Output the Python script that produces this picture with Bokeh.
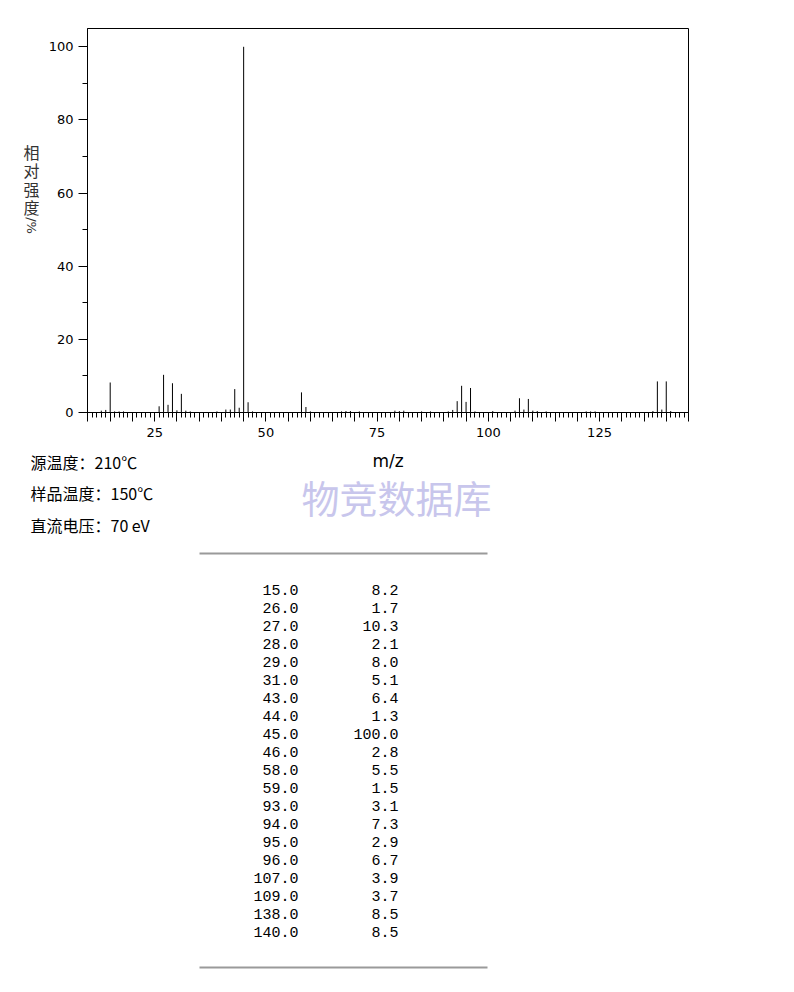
import math
from bokeh.plotting import figure
from bokeh.layouts import column, row
from bokeh.models import FixedTicker, Range1d, ColumnDataSource
from bokeh.core.properties import value
from bokeh.embed import file_html
from bokeh.resources import INLINE

# ---- data ----
mz = [15, 26, 27, 28, 29, 31, 43, 44, 45, 46, 58, 59, 93, 94, 95, 96, 107, 109, 138, 140]
intensity = [8.2, 1.7, 10.3, 2.1, 8.0, 5.1, 6.4, 1.3, 100.0, 2.8, 5.5, 1.5, 3.1, 7.3, 2.9, 6.7, 3.9, 3.7, 8.5, 8.5]
minor_mz = [13, 14, 16, 17, 18, 30, 32, 33, 39, 41, 42, 47, 60, 67, 68, 69, 71, 79, 80, 81, 85, 87,
            91, 92, 97, 101, 106, 108, 110, 111, 113, 122, 123, 124, 137, 139, 141]
minor_int = [0.5, 0.7, 0.3, 0.3, 0.3, 0.6, 0.5, 0.3, 0.3, 0.8, 0.8, 0.3, 0.3, 0.3, 0.4, 0.4, 0.3, 0.5, 0.4, 0.5, 0.3, 0.3,
             0.3, 0.7, 0.3, 0.4, 0.5, 0.8, 0.5, 0.4, 0.3, 0.3, 0.3, 0.3, 0.4, 0.8, 0.4]
x_labels = [25, 50, 75, 100, 125]
y_ticks = [0, 20, 40, 60, 80, 100]
y_minor = [10, 30, 50, 70, 90]
ylabel_chars = ["相", "对", "强", "度"]
ylabel_unit = "/%"
xlabel = "m/z"
info_lines = ["源温度：210℃", "样品温度：150℃", "直流电压：70 eV"]
watermark = "物竞数据库"

# ---- layout geometry (page px) ----
PAGE_W, PAGE_H = 780, 980
PL, PR, PT, PB = 87, 688, 28, 412   # spectrum frame
TOP_H = 445                          # height of the chart row
YLAB_W = 45                          # width of the y-label strip


def blank(width, height, y_top, y_bottom):
    f = figure(width=width, height=height, x_range=Range1d(0, width), y_range=Range1d(y_bottom, y_top),
               output_backend="svg", toolbar_location=None, min_border=0,
               x_axis_type=None, y_axis_type=None, title=None)
    f.xgrid.visible = False
    f.ygrid.visible = False
    f.outline_line_color = None
    f.background_fill_color = "white"
    f.border_fill_color = "white"
    return f


# ---- y label strip (its frame is aligned with the spectrum frame: page y 28..412) ----
ylab = blank(YLAB_W, TOP_H, PT, PB)
ylab.text(x=[31] * len(ylabel_chars), y=[151 + i * 18.5 for i in range(len(ylabel_chars))], text=ylabel_chars,
          text_align="center", text_baseline="middle", text_font=value("Noto Sans CJK SC"),
          text_font_size="16px", text_color="#333333")
ylab.text(x=[31], y=[225], text=[ylabel_unit], angle=-math.pi / 2, text_align="center", text_baseline="middle",
          text_font=value("DejaVu Sans"), text_font_size="13px", text_color="#333333")

# ---- spectrum ----
p = figure(width=PAGE_W - YLAB_W, height=TOP_H, x_range=Range1d(9.9, 145), y_range=Range1d(0, 105),
           output_backend="svg", toolbar_location=None,
           min_border_left=PL - YLAB_W, min_border_right=PAGE_W - PR,
           min_border_top=PT, min_border_bottom=TOP_H - PB)
p.xgrid.visible = False
p.ygrid.visible = False
p.outline_line_color = "black"
p.outline_line_alpha = 1
p.outline_line_width = 1
p.background_fill_color = "white"
p.border_fill_color = "white"

src = ColumnDataSource(dict(x=mz + minor_mz, y0=[0] * (len(mz) + len(minor_mz)), y1=intensity + minor_int))
p.segment(x0="x", y0="y0", x1="x", y1="y1", source=src, line_color="black", line_width=1)

xmaj = list(range(10, 146, 5))
p.xaxis.ticker = FixedTicker(ticks=xmaj, minor_ticks=list(range(10, 146)))
p.xaxis.major_label_overrides = {t: (str(t) if t in x_labels else "") for t in xmaj}
p.xaxis.major_tick_out = 9
p.xaxis.major_tick_in = 0
p.xaxis.minor_tick_out = 5
p.xaxis.minor_tick_in = 0
p.xaxis.major_label_standoff = 6

p.yaxis.ticker = FixedTicker(ticks=y_ticks, minor_ticks=y_minor)
p.yaxis.major_tick_out = 9
p.yaxis.major_tick_in = 0
p.yaxis.minor_tick_out = 5
p.yaxis.minor_tick_in = 0
p.yaxis.major_label_standoff = 5

for ax in (p.xaxis, p.yaxis):
    ax.axis_line_color = "black"
    ax.major_tick_line_color = "black"
    ax.minor_tick_line_color = "black"
    ax.major_label_text_font = "DejaVu Sans"
    ax.major_label_text_font_size = "13px"
    ax.major_label_text_color = "black"

# ---- lower part ----
low = blank(PAGE_W, PAGE_H - TOP_H, TOP_H, PAGE_H)
low.text(x=[(PL + PR) / 2], y=[460], text=[xlabel], text_align="center", text_baseline="middle",
         text_font=value("DejaVu Sans"), text_font_size="17px", text_color="black")
low.text(x=[30] * len(info_lines), y=[461 + i * 31.5 for i in range(len(info_lines))], text=info_lines,
         text_align="left", text_baseline="middle", text_font=value("Noto Sans CJK SC"),
         text_font_size="16px", text_color="black")
low.text(x=[396], y=[496], text=[watermark], text_align="center", text_baseline="middle",
         text_font=value("Noto Sans CJK SC"), text_font_size="38px", text_color="#c8c6ec")
low.segment(x0=[199, 199], y0=[553, 967], x1=[487, 487], y1=[553, 967], line_color="#9a9a9a", line_width=2)

rows_y = [589 + i * 18 for i in range(len(mz))]
low.text(x=[298] * len(mz), y=rows_y, text=[f"{m:.1f}" for m in mz], text_align="right", text_baseline="middle",
         text_font=value("Liberation Mono"), text_font_size="15px", text_color="black")
low.text(x=[398] * len(mz), y=rows_y, text=[f"{v:.1f}" for v in intensity], text_align="right",
         text_baseline="middle", text_font=value("Liberation Mono"), text_font_size="15px", text_color="black")

page = column(row(ylab, p), low)
open("out.html", "w").write(file_html(page, INLINE))
